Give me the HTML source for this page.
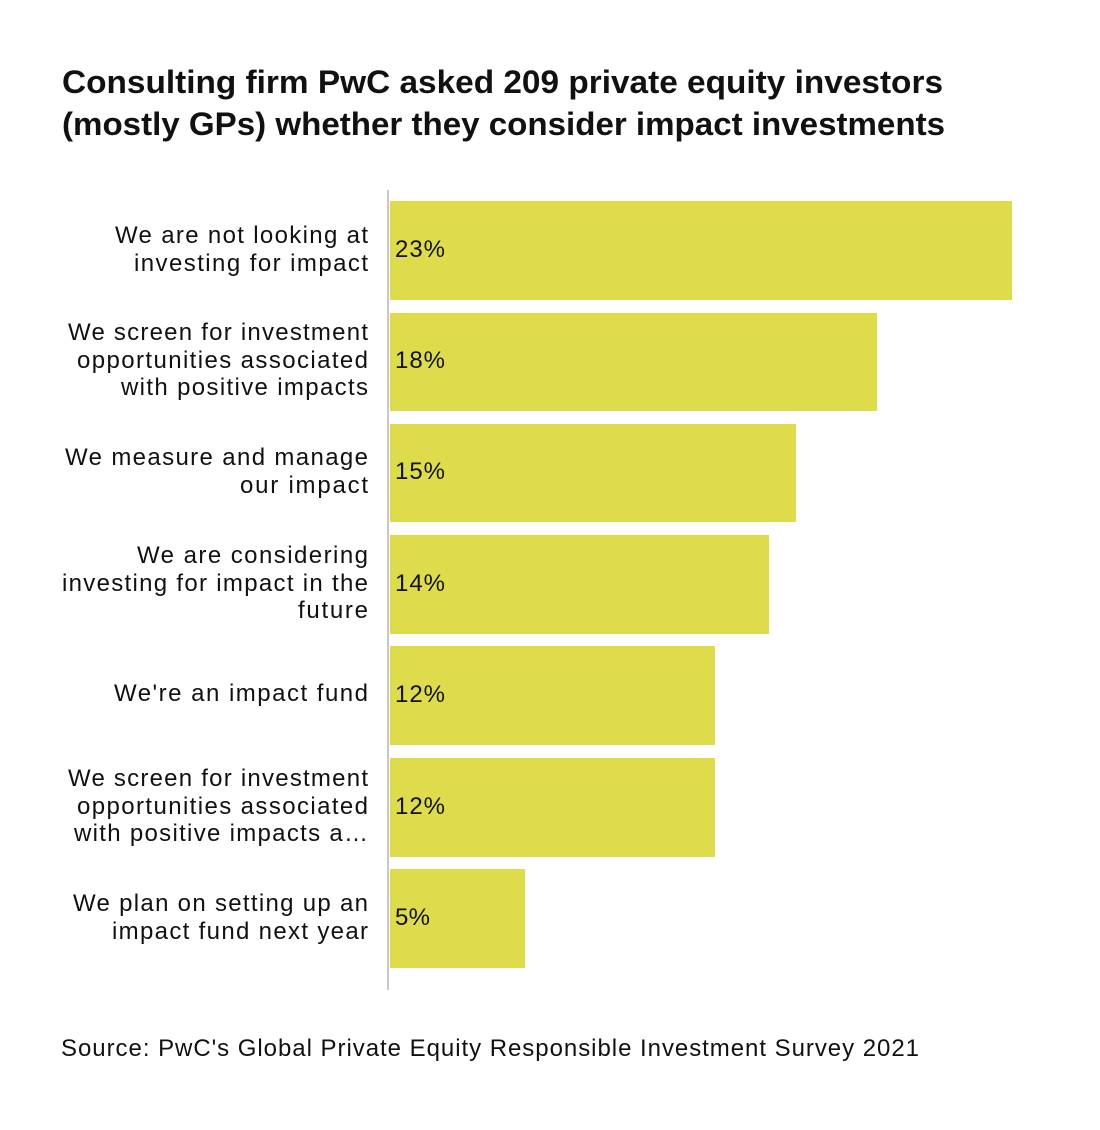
<!DOCTYPE html>
<html>
<head>
<meta charset="utf-8">
<style>
  html, body { margin: 0; padding: 0; background: #ffffff; }
  svg { display: block; }
  text { font-family: "Liberation Sans", sans-serif; fill: #111111; }
</style>
</head>
<body>
<svg width="1100" height="1130" viewBox="0 0 1100 1130" xmlns="http://www.w3.org/2000/svg">
  <rect x="0" y="0" width="1100" height="1130" fill="#ffffff"/>

  <!-- Title -->
  <text x="62" y="93" font-size="32" font-weight="bold" textLength="881" lengthAdjust="spacingAndGlyphs">Consulting firm PwC asked 209 private equity investors</text>
  <text x="62" y="135" font-size="32" font-weight="bold" textLength="883" lengthAdjust="spacingAndGlyphs">(mostly GPs) whether they consider impact investments</text>

  <!-- Bars -->
  <g fill="#dfdc4b">
    <rect x="390" y="201" width="622" height="99"/>
    <rect x="390" y="313" width="487" height="98"/>
    <rect x="390" y="424" width="406" height="98"/>
    <rect x="390" y="535" width="379" height="99"/>
    <rect x="390" y="646" width="325" height="99"/>
    <rect x="390" y="758" width="325" height="99"/>
    <rect x="390" y="869" width="135" height="99"/>
  </g>

  <!-- Axis line -->
  <rect x="387" y="190" width="2" height="800" fill="#c8c8c8"/>

  <!-- Category labels -->
  <g font-size="24" text-anchor="end">
    <text x="368" y="243" textLength="253" lengthAdjust="spacing">We are not looking at</text>
    <text x="368" y="271" textLength="234" lengthAdjust="spacing">investing for impact</text>

    <text x="368" y="340" textLength="300" lengthAdjust="spacing">We screen for investment</text>
    <text x="368" y="368" textLength="291" lengthAdjust="spacing">opportunities associated</text>
    <text x="368" y="395" textLength="247" lengthAdjust="spacing">with positive impacts</text>

    <text x="368" y="465" textLength="303" lengthAdjust="spacing">We measure and manage</text>
    <text x="368" y="493" textLength="128" lengthAdjust="spacing">our impact</text>

    <text x="368" y="563" textLength="231" lengthAdjust="spacing">We are considering</text>
    <text x="368" y="591" textLength="306" lengthAdjust="spacing">investing for impact in the</text>
    <text x="368" y="618" textLength="70" lengthAdjust="spacing">future</text>

    <text x="368" y="701" textLength="254" lengthAdjust="spacing">We're an impact fund</text>

    <text x="368" y="786" textLength="300" lengthAdjust="spacing">We screen for investment</text>
    <text x="368" y="814" textLength="291" lengthAdjust="spacing">opportunities associated</text>
    <text x="368" y="841" textLength="294" lengthAdjust="spacing">with positive impacts a…</text>

    <text x="368" y="911" textLength="295" lengthAdjust="spacing">We plan on setting up an</text>
    <text x="368" y="939" textLength="256" lengthAdjust="spacing">impact fund next year</text>
  </g>

  <!-- Value labels -->
  <g font-size="24">
    <text x="395" y="257" textLength="50" lengthAdjust="spacing">23%</text>
    <text x="395" y="368" textLength="50" lengthAdjust="spacing">18%</text>
    <text x="395" y="479" textLength="50" lengthAdjust="spacing">15%</text>
    <text x="395" y="591" textLength="50" lengthAdjust="spacing">14%</text>
    <text x="395" y="702" textLength="50" lengthAdjust="spacing">12%</text>
    <text x="395" y="814" textLength="50" lengthAdjust="spacing">12%</text>
    <text x="395" y="925" textLength="35" lengthAdjust="spacing">5%</text>
  </g>

  <!-- Source -->
  <text x="61" y="1056" font-size="24" textLength="858" lengthAdjust="spacing">Source: PwC's Global Private Equity Responsible Investment Survey 2021</text>
</svg>
</body>
</html>
